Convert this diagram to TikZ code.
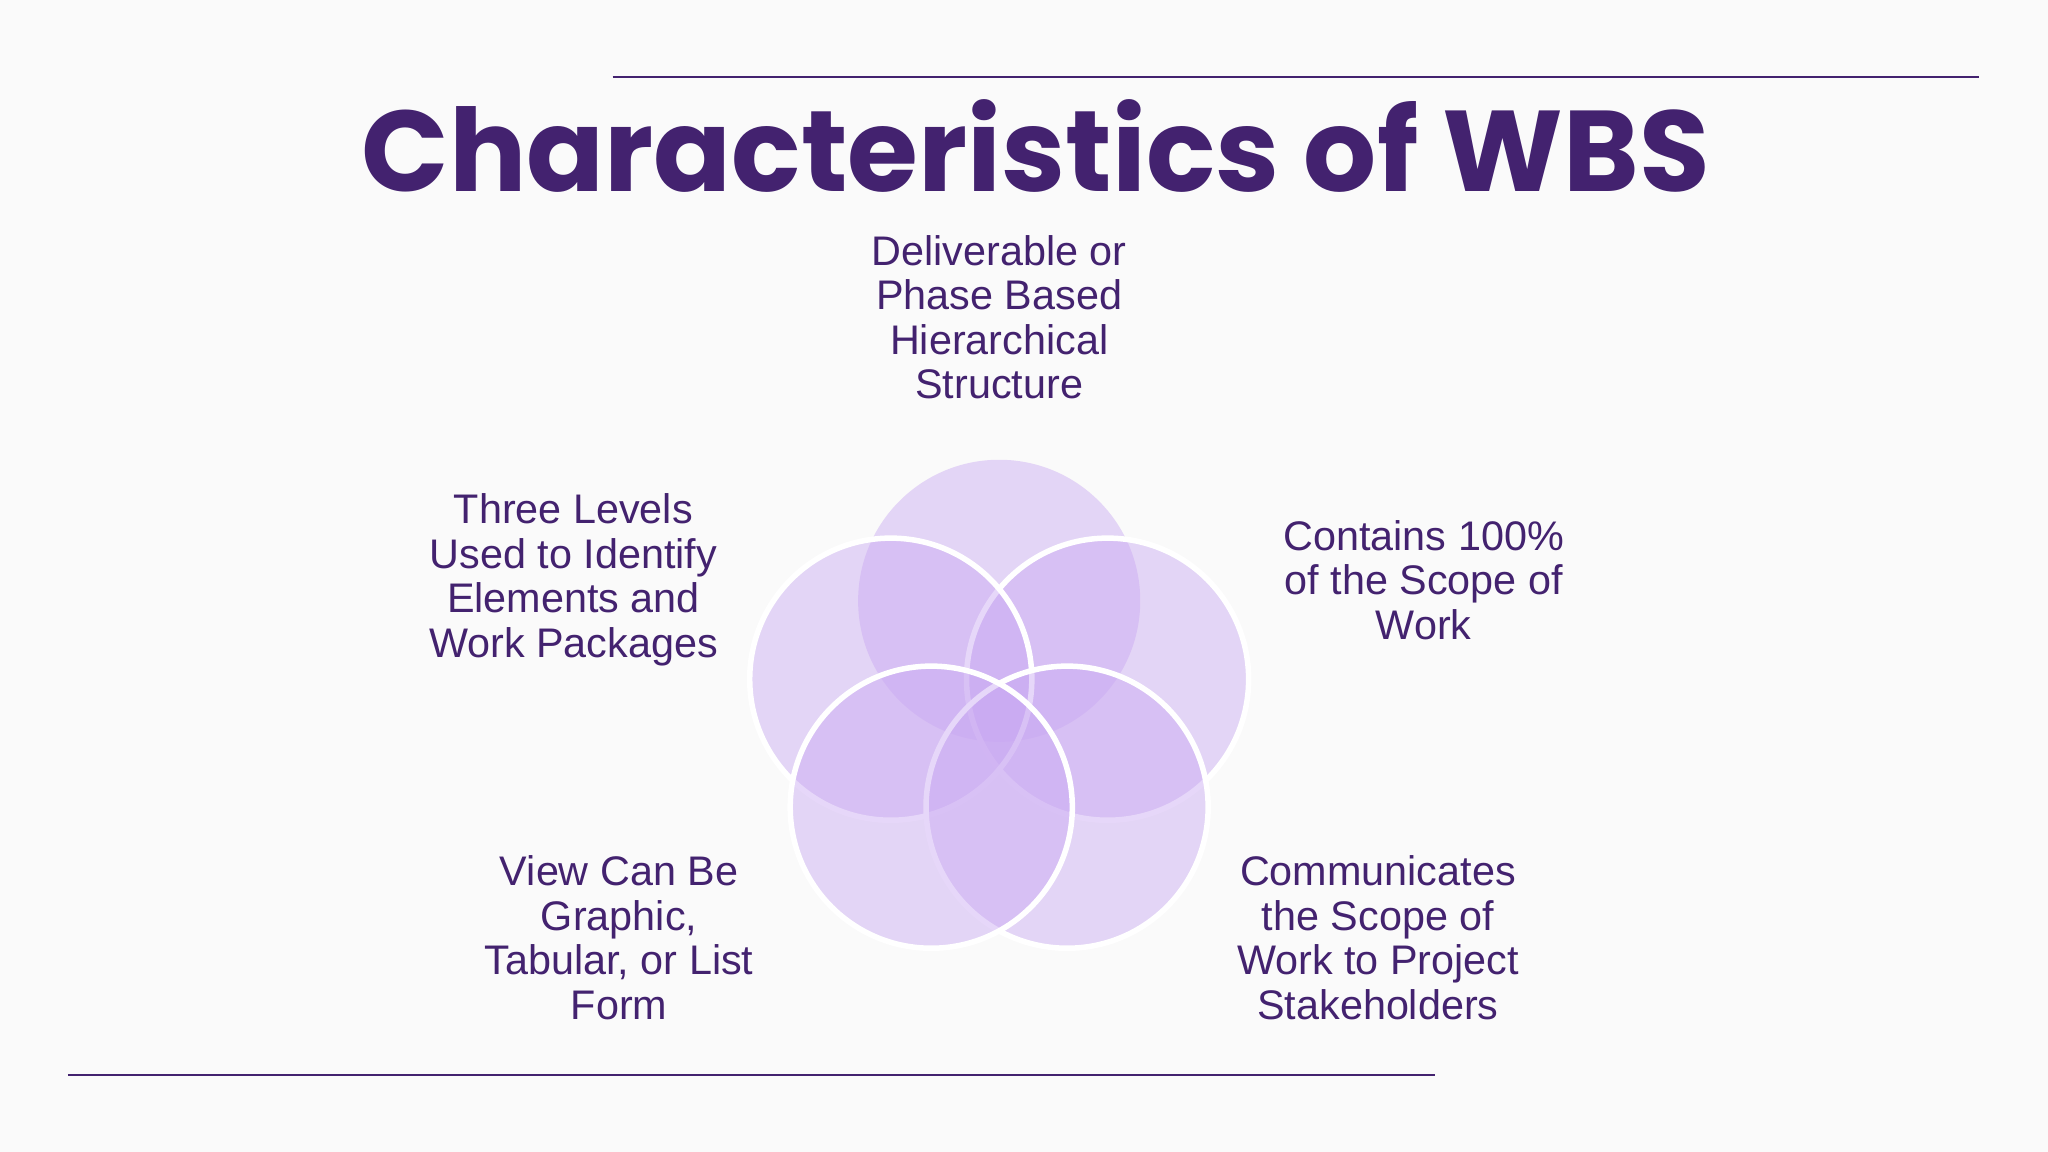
\documentclass[tikz,border=0pt]{standalone}
\usepackage{fontspec}
\setmainfont{Liberation Sans}
\newfontfamily\titlefont{Poppins}
\definecolor{dp}{HTML}{43226F}
\definecolor{cf}{HTML}{C9A8F2}
\begin{document}
\begin{tikzpicture}[x=0.01cm,y=-0.01cm,
  circ/.style={fill=cf,fill opacity=0.45,draw=white,line width=1.2pt},
  lbl/.style={text=dp,align=center,font=\fontsize{9}{9.7}\selectfont}]
\fill[fill={rgb,255:red,250;green,250;blue,250}] (0,0) rectangle (1568,882);
\useasboundingbox (0,0) rectangle (1568,882);
\draw[dp,line width=0.5pt] (469,59) coordinate (t1) -- (1515,59) coordinate (t2);
\draw[dp,line width=0.5pt] (52,823) coordinate (b1) -- (1099,823) coordinate (b2);
\node[text=dp,font=\titlefont\bfseries\fontsize{25}{28}\selectfont] (title) at (793,112) {Characteristics of WBS};
\path[circ,draw=none] (765,460) circle (108);
\path[circ] (848,520) circle (108);
\path[circ] (682,520) circle (108);
\path[circ] (817,618) circle (108);
\path[circ] (713,618) circle (108);
\node[lbl] (a) at (765,243) {Deliverable or\\Phase Based\\Hierarchical\\Structure};
\node[lbl] (b) at (1090,444) {Contains 100\%\\of the Scope of\\Work};
\node[lbl] (c) at (1055,718) {Communicates\\the Scope of\\Work to Project\\Stakeholders};
\node[lbl] (d) at (474,718) {View Can Be\\Graphic,\\Tabular, or List\\Form};
\node[lbl] (e) at (439,444) {Three Levels\\Used to Identify\\Elements and\\Work Packages};
\end{tikzpicture}
\end{document}
